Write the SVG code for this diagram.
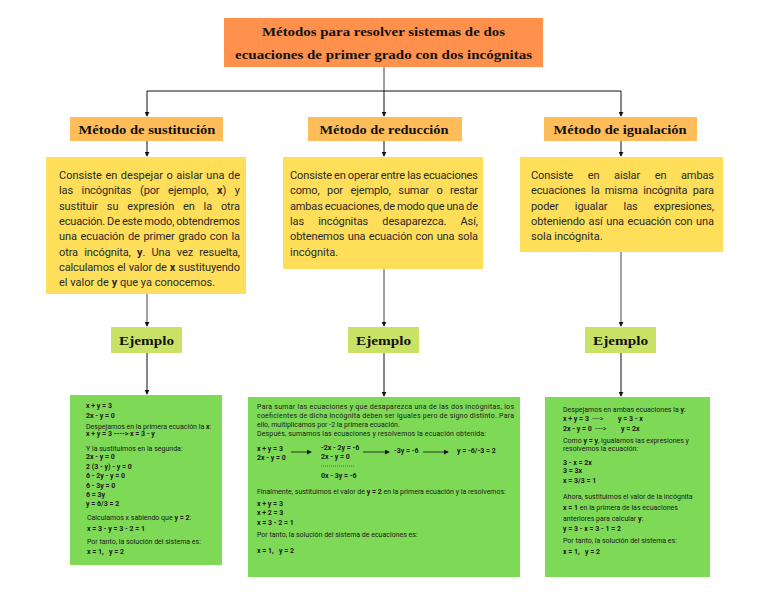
<svg xmlns="http://www.w3.org/2000/svg" width="768" height="614" viewBox="0 0 768 614">
<defs>
<marker id="ah" viewBox="0 0 6 6" refX="5" refY="3" markerWidth="5" markerHeight="5" orient="auto" markerUnits="userSpaceOnUse">
<path d="M0,0 L6,3 L0,6 z" fill="#111"/>
</marker>
<style>
.title{font-family:"Liberation Serif",serif;font-weight:bold;font-size:13px;fill:#111;}
.hdr{font-family:"Liberation Serif",serif;font-weight:bold;font-size:12.5px;fill:#111;}
.yt{font-family:Roboto,"Liberation Sans",sans-serif;font-size:11px;fill:#2a2a2a;}
.gt{font-family:Roboto,"Liberation Sans",sans-serif;font-size:7px;fill:#1a1a1a;}
.b{font-weight:bold;}
.conn{fill:none;stroke:#111;stroke-width:1;}
.conn2{fill:none;stroke:#444;stroke-width:1;}
.sm{fill:none;stroke:#111;stroke-width:0.8;}
</style>
</defs>
<rect width="768" height="614" fill="#ffffff"/>

<g id="connectors">
<path class="conn2" d="M384,67 V91"/>
<path class="conn" d="M147,91 H621"/>
<path class="conn" d="M147,91 V116" marker-end="url(#ah)"/>
<path class="conn" d="M384,91 V116" marker-end="url(#ah)"/>
<path class="conn" d="M621,91 V116" marker-end="url(#ah)"/>
<path class="conn" d="M147,141 V156" marker-end="url(#ah)"/>
<path class="conn" d="M384,141 V156" marker-end="url(#ah)"/>
<path class="conn" d="M621,141 V156" marker-end="url(#ah)"/>
<path class="conn2" d="M147,294 V326" marker-end="url(#ah)"/>
<path class="conn2" d="M384,269 V326" marker-end="url(#ah)"/>
<path class="conn2" d="M621,252 V326" marker-end="url(#ah)"/>
<path class="conn" d="M147,353 V394" marker-end="url(#ah)"/>
<path class="conn" d="M384,353 V396" marker-end="url(#ah)"/>
<path class="conn" d="M621,353 V396" marker-end="url(#ah)"/>
</g>

<g id="title">
<rect x="224" y="18" width="319" height="49" fill="#FF914D"/>
<text class="title" x="383.5" y="36" text-anchor="middle" textLength="243" lengthAdjust="spacingAndGlyphs">Métodos para resolver sistemas de dos</text>
<text class="title" x="383.5" y="59" text-anchor="middle" textLength="297" lengthAdjust="spacingAndGlyphs">ecuaciones de primer grado con dos incógnitas</text>
</g>

<g id="hdr-sustitucion">
<rect x="70" y="117" width="153" height="24" fill="#FFBD59"/>
<text class="hdr" x="147" y="134" text-anchor="middle" textLength="137" lengthAdjust="spacingAndGlyphs">Método de sustitución</text>
</g>
<g id="hdr-reduccion">
<rect x="308" y="117" width="154" height="24" fill="#FFBD59"/>
<text class="hdr" x="384" y="134" text-anchor="middle" textLength="129" lengthAdjust="spacingAndGlyphs">Método de reducción</text>
</g>
<g id="hdr-igualacion">
<rect x="544" y="117" width="153" height="24" fill="#FFBD59"/>
<text class="hdr" x="620" y="134" text-anchor="middle" textLength="133" lengthAdjust="spacingAndGlyphs">Método de igualación</text>
</g>

<g id="def-sustitucion">
<rect x="46" y="157" width="200" height="137" fill="#FFDE59"/>
<text class="yt" x="59" y="179" word-spacing="0.8" textLength="181" lengthAdjust="spacing">Consiste en despejar o aislar una de</text>
<text class="yt" x="59" y="194.3" word-spacing="6" textLength="181" lengthAdjust="spacing">las incógnitas (por ejemplo, <tspan class="b">x</tspan>) y</text>
<text class="yt" x="59" y="209.6" word-spacing="6.2" textLength="181" lengthAdjust="spacing">sustituir su expresión en la otra</text>
<text class="yt" x="59" y="224.9" word-spacing="-0.5" textLength="181" lengthAdjust="spacing">ecuación. De este modo, obtendremos</text>
<text class="yt" x="59" y="240.2" word-spacing="1.2" textLength="181" lengthAdjust="spacing">una ecuación de primer grado con la</text>
<text class="yt" x="59" y="255.5" word-spacing="3.7" textLength="181" lengthAdjust="spacing">otra incógnita, <tspan class="b">y</tspan>. Una vez resuelta,</text>
<text class="yt" x="59" y="270.8" word-spacing="0.4" textLength="181" lengthAdjust="spacing">calculamos el valor de <tspan class="b">x</tspan> sustituyendo</text>
<text class="yt" x="59" y="286.1">el valor de <tspan class="b">y</tspan> que ya conocemos.</text>
</g>

<g id="def-reduccion">
<rect x="283" y="157" width="200" height="112" fill="#FFDE59"/>
<text class="yt" x="290" y="179" word-spacing="-0.5" textLength="188" lengthAdjust="spacing">Consiste en operar entre las ecuaciones</text>
<text class="yt" x="290" y="194.3" word-spacing="4.9" textLength="188" lengthAdjust="spacing">como, por ejemplo, sumar o restar</text>
<text class="yt" x="290" y="209.6" word-spacing="-0.6" textLength="188" lengthAdjust="spacing">ambas ecuaciones, de modo que una de</text>
<text class="yt" x="290" y="224.9" word-spacing="11.5" textLength="188" lengthAdjust="spacing">las incógnitas desaparezca. Así,</text>
<text class="yt" x="290" y="240.2" word-spacing="0.7" textLength="188" lengthAdjust="spacing">obtenemos una ecuación con una sola</text>
<text class="yt" x="290" y="255.5">incógnita.</text>
</g>

<g id="def-igualacion">
<rect x="520" y="157" width="203" height="95" fill="#FFDE59"/>
<text class="yt" x="531" y="179" word-spacing="12" textLength="183" lengthAdjust="spacing">Consiste en aislar en ambas</text>
<text class="yt" x="531" y="194.3" word-spacing="2.7" textLength="183" lengthAdjust="spacing">ecuaciones la misma incógnita para</text>
<text class="yt" x="531" y="209.6" word-spacing="13.5" textLength="183" lengthAdjust="spacing">poder igualar las expresiones,</text>
<text class="yt" x="531" y="224.9" word-spacing="1" textLength="183" lengthAdjust="spacing">obteniendo así una ecuación con una</text>
<text class="yt" x="531" y="240.2">sola incógnita.</text>
</g>

<g id="ej-sustitucion">
<rect x="111" y="327" width="71" height="26" fill="#C9E265"/>
<text class="hdr" x="146.5" y="345" text-anchor="middle" textLength="55" lengthAdjust="spacingAndGlyphs">Ejemplo</text>
</g>
<g id="ej-reduccion">
<rect x="348" y="327" width="71" height="26" fill="#C9E265"/>
<text class="hdr" x="383.5" y="345" text-anchor="middle" textLength="55" lengthAdjust="spacingAndGlyphs">Ejemplo</text>
</g>
<g id="ej-igualacion">
<rect x="585" y="327" width="71" height="26" fill="#C9E265"/>
<text class="hdr" x="620.5" y="345" text-anchor="middle" textLength="55" lengthAdjust="spacingAndGlyphs">Ejemplo</text>
</g>

<g id="ex-sustitucion">
<rect x="70" y="395" width="152" height="170" fill="#7ED957"/>
<text class="gt b" x="86" y="408.2">x + y = 3</text>
<text class="gt b" x="86" y="418.2">2x - y = 0</text>
<text class="gt" x="86" y="428.5">Despejamos en la primera ecuación la <tspan class="b">x</tspan>:</text>
<text class="gt b" x="86" y="436">x + y = 3 ----&gt; x = 3 - y</text>
<text class="gt" x="86" y="450.5">Y la sustituimos en la segunda:</text>
<text class="gt b" x="86" y="459">2x - y = 0</text>
<text class="gt b" x="86" y="468.5">2 (3 - y) - y = 0</text>
<text class="gt b" x="86" y="478">6 - 2y - y = 0</text>
<text class="gt b" x="86" y="488">6 - 3y = 0</text>
<text class="gt b" x="86" y="496.5">6 = 3y</text>
<text class="gt b" x="86" y="506">y = 6/3 = 2</text>
<text class="gt" x="87" y="520">Calculamos x sabiendo que <tspan class="b">y = 2</tspan>:</text>
<text class="gt b" x="87" y="531">x = 3 - y = 3 - 2 = 1</text>
<text class="gt" x="87" y="543.5">Por tanto, la solución del sistema es:</text>
<text class="gt b" x="87" y="554" xml:space="preserve">x = 1,   y = 2</text>
</g>

<g id="ex-reduccion">
<rect x="248" y="397" width="272" height="180" fill="#7ED957"/>
<text class="gt" x="257" y="408.5" textLength="257" lengthAdjust="spacing">Para sumar las ecuaciones y que desaparezca una de las dos incógnitas, los</text>
<text class="gt" x="257" y="417.5" textLength="257" lengthAdjust="spacing">coeficientes de dicha incógnita deben ser iguales pero de signo distinto. Para</text>
<text class="gt" x="257" y="427">ello, multiplicamos por -2 la primera ecuación.</text>
<text class="gt" x="257" y="436" textLength="229" lengthAdjust="spacing">Después, sumamos las ecuaciones y resolvemos la ecuación obtenida:</text>
<text class="gt b" x="257" y="451">x + y = 3</text>
<text class="gt b" x="257" y="459.5">2x - y = 0</text>
<path class="sm" d="M291,452 H311" marker-end="url(#ah)"/>
<text class="gt b" x="321" y="449.5">-2x - 2y = -6</text>
<text class="gt b" x="321" y="459">2x - y = 0</text>
<path d="M321,466 H355" stroke="#333" stroke-width="0.6" stroke-dasharray="1,1"/>
<text class="gt b" x="321" y="478">0x - 3y = -6</text>
<path class="sm" d="M363,452 H389" marker-end="url(#ah)"/>
<text class="gt b" x="394" y="452.5">-3y = -6</text>
<path class="sm" d="M423,452 H448" marker-end="url(#ah)"/>
<text class="gt b" x="457" y="452.5">y = -6/-3 = 2</text>
<text class="gt" x="257" y="494">Finalmente, sustituimos el valor de <tspan class="b">y = 2</tspan> en la primera ecuación y la resolvemos:</text>
<text class="gt b" x="257" y="506">x + y = 3</text>
<text class="gt b" x="257" y="515">x + 2 = 3</text>
<text class="gt b" x="257" y="525">x = 3 - 2 = 1</text>
<text class="gt" x="257" y="537">Por tanto, la solución del sistema de ecuaciones es:</text>
<text class="gt b" x="257" y="552.5" xml:space="preserve">x = 1,   y = 2</text>
</g>

<g id="ex-igualacion">
<rect x="545" y="397" width="165" height="180" fill="#7ED957"/>
<text class="gt" x="563" y="411.5">Despejamos en ambas ecuaciones la <tspan class="b">y</tspan>:</text>
<text class="gt b" x="563" y="421">x + y = 3</text>
<text class="gt" x="592" y="421">----&gt;</text>
<text class="gt b" x="618" y="421">y = 3 - x</text>
<text class="gt b" x="563" y="431">2x - y = 0</text>
<text class="gt" x="595" y="431">----&gt;</text>
<text class="gt b" x="621" y="431">y = 2x</text>
<text class="gt" x="563" y="442.5">Como <tspan class="b">y = y</tspan>, igualamos las expresiones y</text>
<text class="gt" x="563" y="451">resolvemos la ecuación:</text>
<text class="gt b" x="563" y="464.5">3 - x = 2x</text>
<text class="gt b" x="563" y="473">3 = 3x</text>
<text class="gt b" x="563" y="482.5">x = 3/3 = 1</text>
<text class="gt" x="563" y="498.5">Ahora, sustituimos el valor de la incógnita</text>
<text class="gt" x="563" y="509.5"><tspan class="b">x = 1</tspan> en la primera de las ecuaciones</text>
<text class="gt" x="563" y="520.5">anteriores para calcular <tspan class="b">y</tspan>:</text>
<text class="gt b" x="563" y="530.5">y = 3 - x = 3 - 1 = 2</text>
<text class="gt" x="563" y="542.5">Por tanto, la solución del sistema es:</text>
<text class="gt b" x="563" y="553.5" xml:space="preserve">x = 1,   y = 2</text>
</g>
</svg>
